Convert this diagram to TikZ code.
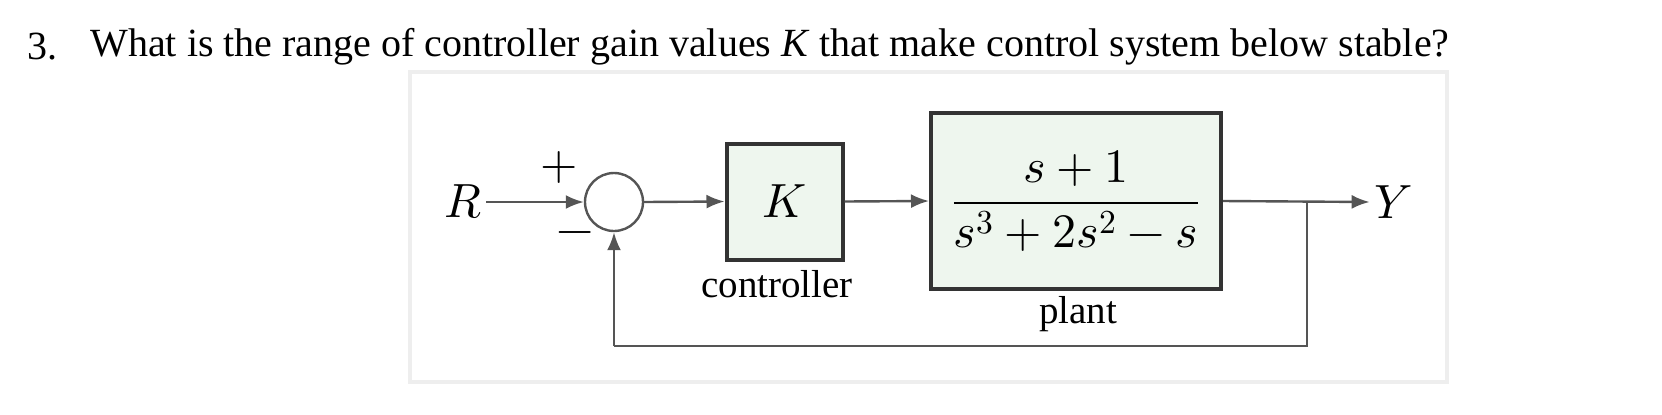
\documentclass[tikz,border=0pt]{standalone}
\usepackage{fontspec}
\setmainfont{Liberation Serif}
\usepackage{unicode-math}
\setmathfont{Latin Modern Math}
\usetikzlibrary{arrows.meta}
\definecolor{frame}{HTML}{EEEEEE}
\definecolor{wire}{HTML}{555555}
\definecolor{boxfill}{HTML}{EEF6EE}
\tikzset{
  wire/.style={draw=wire,line width=1.2pt},
  arr/.style={wire,-{Latex[length=9pt,width=7pt]}},
  blk/.style={draw=black!80,line width=2pt,fill=boxfill,inner sep=0pt},
  lbl/.style={font=\fontsize{19.5}{23}\selectfont\rmfamily},
  mth/.style={font=\fontsize{24}{28}\selectfont},
  ttl/.style={anchor=west,font=\fontsize{20}{24}\selectfont,inner sep=0},
}
\begin{document}
\begin{tikzpicture}[x=0.5pt,y=-0.5pt]
\useasboundingbox (0,0) rectangle (1662,414);
\node[ttl] (num) at (27,47) {3.};
\node[ttl] (title) at (90,47) {What is the range of controller gain values \textit{K} that make control system below stable?};
\draw[frame,line width=2pt] (410,72) rectangle (1447,382);
\node[draw=wire,line width=1.2pt,circle,minimum size=29pt,inner sep=0] (sum) at (614,202) {};
\node[mth,inner sep=2pt] (R) at (463,202) {$R$};
\node[blk,minimum width=58pt,minimum height=58pt] (K) at (784.5,201.5) {};
\node[mth] at (K) {$K$};
\node[blk,minimum width=145pt,minimum height=88pt] (P) at (1076,201) {};
\node[mth] at (P) {$\dfrac{s+1}{s^3+2s^2-s}$};
\node[mth,inner sep=2pt] (Y) at (1393,202) {$Y$};
\node[lbl] (cl) at (777,284) {controller};
\node[lbl] (pl) at (1078,314) {plant};
\node[mth] (plus) at (559,167) {$+$};
\node[mth] (minus) at (575,238) {$-$};
\coordinate (br) at (1307,202);
\coordinate (fb1) at (1307,346);
\coordinate (fb2) at (614,346);
\draw[arr] (R.east) -- (sum.west);
\draw[arr] (sum.east) -- (K.west);
\draw[arr] (K.east) -- (P.west);
\draw[arr] (P.east) -- (Y.west);
\draw[wire] (br) -- (fb1) -- (fb2);
\draw[arr] (fb2) -- (sum.south);
\end{tikzpicture}
\end{document}
